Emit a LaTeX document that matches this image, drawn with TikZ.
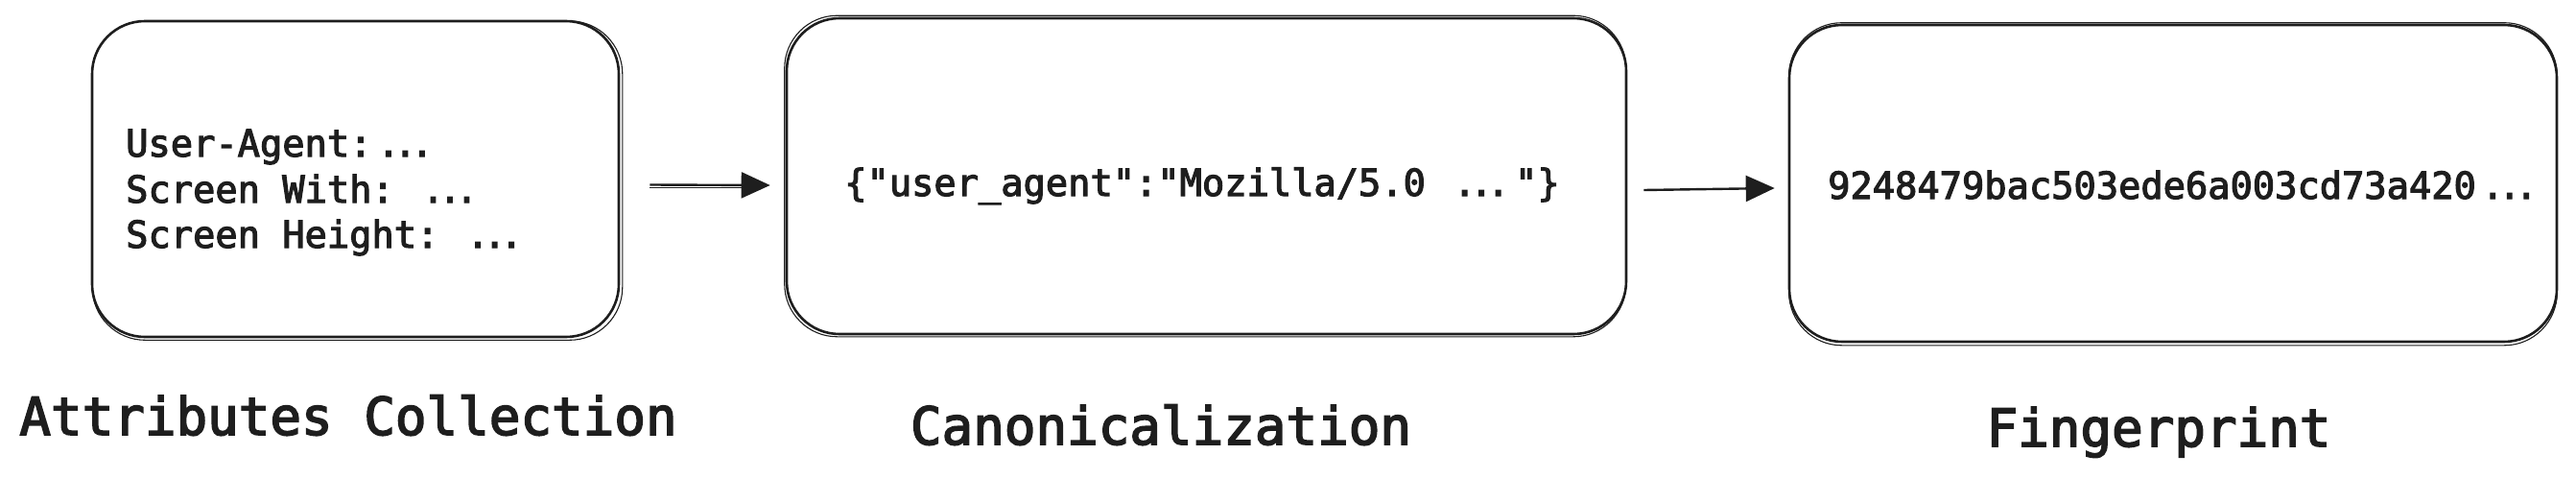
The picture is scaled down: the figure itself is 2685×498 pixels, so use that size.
\documentclass[tikz,border=0pt]{standalone}
\usepackage{fontspec}
\usetikzlibrary{arrows.meta}
\newfontfamily\cf{DejaVu Sans Mono}[FakeBold=3]
\definecolor{ink}{HTML}{1E1E1E}
\newcommand\edots{\makebox[0.602em]{\hss.\kern-.15em.\kern-.15em.\hss}}
\tikzset{
  card/.style={draw=ink, line width=2.6pt, rounded corners=55pt, inner sep=0pt},
  sketch/.style={draw=ink, line width=1.1pt, rounded corners=55pt},
  body/.style={text=ink, inner sep=0pt, anchor=base west, font=\cf\fontsize{38.7}{46}\selectfont},
  caption/.style={text=ink, inner sep=0pt, anchor=base, font=\cf\fontsize{54.2}{64}\selectfont},
  conn/.style={draw=ink, line width=2.4pt, -{Triangle[length=30pt,width=27pt]}},
  ghost/.style={draw=ink, line width=1.4pt}
}
\begin{document}
\begin{tikzpicture}[x=1pt,y=-1pt]
\useasboundingbox (0,0) rectangle (2685,498);
% boxes
\node[card, minimum width=549pt, minimum height=329pt] (b1) at (370.5,186.5) {};
\node[card, minimum width=875pt, minimum height=329pt] (b2) at (1257.5,183.5) {};
\node[card, minimum width=800pt, minimum height=330pt] (b3) at (2265,191) {};
% hand-drawn second strokes
\draw[sketch] ([shift={(1.5,1.2)}]b1.north west) rectangle ([shift={(2.5,2)}]b1.south east);
\draw[sketch] ([shift={(-1,-1.5)}]b2.north west) rectangle ([shift={(-1.5,1.5)}]b2.south east);
\draw[sketch] ([shift={(1,-1)}]b3.north west) rectangle ([shift={(-1,2.5)}]b3.south east);
% box texts
\node[body] (t1a) at (131,163) {User-Agent:~\edots};
\node[body] (t1b) at (131,211) {Screen With:~~\edots};
\node[body] (t1c) at (131,258) {Screen Height:~~\edots};
\node[body] (t2) at (880,204) {\{"user\_agent":"Mozilla/5.0~~\edots~"\}};
\node[body] (t3) at (1905,207) {9248479bac503ede6a003cd73a420~\edots};
% captions
\node[caption] (c1) at (363,453) {Attributes Collection};
\node[caption] (c2) at (1210,463) {Canonicalization};
\node[caption] (c3) at (2250,465) {Fingerprint};
% connectors
\draw[conn] ([shift={(31,6)}]b1.east) -- ([shift={(-16,9.5)}]b2.west);
\draw[ghost] ([shift={(31,9)}]b1.east) -- ([shift={(-40,12)}]b2.west);
\draw[conn] ([shift={(17,14.5)}]b2.east) -- ([shift={(-14,5)}]b3.west);
\end{tikzpicture}
\end{document}
